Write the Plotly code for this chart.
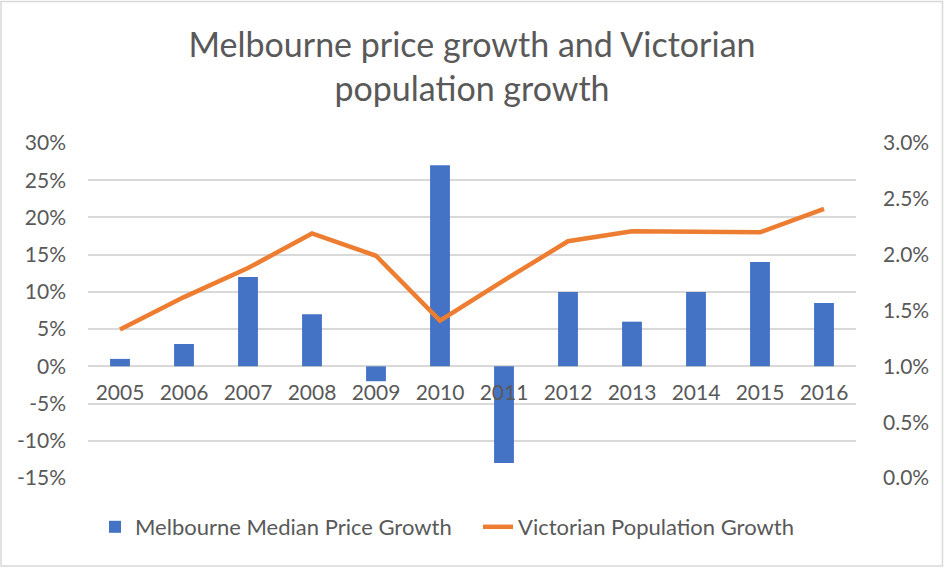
import plotly.graph_objects as go

years = ["2005", "2006", "2007", "2008", "2009", "2010", "2011", "2012", "2013", "2014", "2015", "2016"]
price_growth = [0.01, 0.03, 0.12, 0.07, -0.02, 0.27, -0.13, 0.10, 0.06, 0.10, 0.14, 0.085]
pop_growth = [0.0133, 0.0162, 0.0188, 0.0219, 0.0199, 0.0141, 0.0177, 0.0212, 0.0221, 0.0220, 0.0220, 0.0241]

left_ticks = [-0.15, -0.10, -0.05, 0.0, 0.05, 0.10, 0.15, 0.20, 0.25, 0.30]
left_labels = ["-15%", "-10%", "-5%", "0%", "5%", "10%", "15%", "20%", "25%", "30%"]
right_ticks = [0.0, 0.005, 0.010, 0.015, 0.020, 0.025, 0.030]
right_labels = ["0.0%", "0.5%", "1.0%", "1.5%", "2.0%", "2.5%", "3.0%"]

FONT = "Lato, sans-serif"
GREY = "#595959"
TICK = 21

fig = go.Figure()
fig.add_trace(go.Bar(
    x=years, y=price_growth, name="Melbourne Median Price Growth",
    marker=dict(color="#4472C4", line=dict(width=0)),
    yaxis="y", xaxis="x"))
fig.add_trace(go.Scatter(
    x=years, y=pop_growth, name="Victorian Population Growth",
    mode="lines", line=dict(color="#ED7D31", width=4.5),
    yaxis="y2", xaxis="x"))

L, R, T, B = 88, 88, 143, 90
W, H = 944, 568
pw, ph = W - L - R, H - T - B
zero_frac = 0.15 / 0.45

def px_x(p):
    return (p - L) / pw

def px_y(p):
    return (H - B - p) / ph

fig.update_layout(
    width=W, height=H,
    margin=dict(l=L, r=R, t=T, b=B),
    paper_bgcolor="white", plot_bgcolor="white",
    font=dict(family=FONT, color=GREY, size=TICK),
    title=dict(text="Melbourne price growth and Victorian<br>population growth",
               x=0.5, xanchor="center", y=0.90, yanchor="top",
               font=dict(family=FONT, size=34, color=GREY)),
    bargap=0.69,
    showlegend=True,
    legend=dict(orientation="h", x=px_x(478), xanchor="center", y=px_y(527), yanchor="middle",
                font=dict(size=22, color=GREY), traceorder="normal",
                entrywidth=338, entrywidthmode="pixels",
                bgcolor="rgba(0,0,0,0)"),
    xaxis=dict(type="category", anchor="free", position=zero_frac,
               showgrid=False, showline=False, zeroline=False,
               ticks="", tickfont=dict(size=TICK, color=GREY),
               ticklabelstandoff=12),
    yaxis=dict(range=[-0.15, 0.30], tickvals=left_ticks, ticktext=left_labels,
               showgrid=True, gridcolor="#D9D9D9", gridwidth=1.5,
               zeroline=True, zerolinecolor="#D9D9D9", zerolinewidth=1.5,
               showline=False, ticks="", tickfont=dict(size=TICK, color=GREY),
               ticklabelstandoff=21),
    yaxis2=dict(range=[0, 0.03], tickvals=right_ticks, ticktext=right_labels,
                overlaying="y", side="right", showgrid=False, zeroline=False,
                showline=False, ticks="", tickfont=dict(size=TICK, color=GREY),
                ticklabelstandoff=26),
    shapes=[dict(type="rect", xref="paper", yref="paper",
                 x0=px_x(1), x1=px_x(942.5), y0=px_y(566), y1=px_y(1.5),
                 line=dict(color="#D9D9D9", width=1.5), layer="below")],
)

fig.write_html("out.html")
